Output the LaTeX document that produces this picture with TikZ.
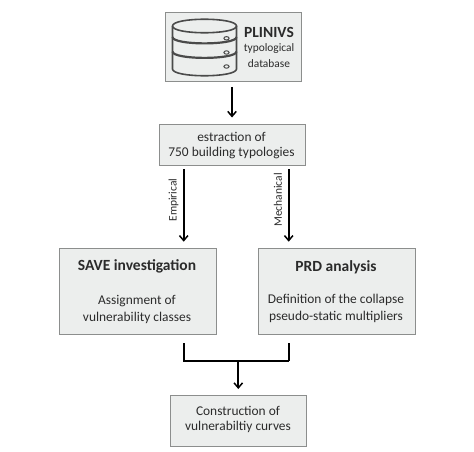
\documentclass[tikz,border=0pt]{standalone}
\usepackage{fontspec}
\setmainfont{Carlito}
\usetikzlibrary{arrows.meta}
\definecolor{boxfill}{HTML}{ECEEED}
\definecolor{boxline}{HTML}{8C8E8D}
\definecolor{ink}{HTML}{2B2B2B}
\definecolor{icon}{HTML}{4A4A4A}
\tikzset{
  x=1pt,y=-1pt,
  flowbox/.style={draw=boxline,line width=1pt,fill=boxfill,inner sep=0pt,anchor=north west},
  txt/.style={text=ink,inner sep=0pt,font=\fontsize{13.4}{15}\selectfont,anchor=center},
  small/.style={text=ink,inner sep=0pt,font=\fontsize{11.4}{13}\selectfont,anchor=center},
  head/.style={text=ink,inner sep=0pt,font=\fontsize{15.5}{18}\selectfont\bfseries,anchor=center},
  side/.style={text=ink,inner sep=0pt,font=\fontsize{11.5}{13}\selectfont,rotate=90,anchor=center},
  arr/.style={draw=black,line width=1.7pt,-{Straight Barb[length=5pt,width=8.5pt,line width=1.5pt]}},
  joinline/.style={draw=black,line width=1.7pt},
  disc/.style={draw=icon,line width=1.6pt}
}
\begin{document}
\begin{tikzpicture}
\useasboundingbox (0,0) rectangle (474,452);
\fill[white] (0,0) rectangle (474,452);
% boxes
\node[flowbox,minimum width=136pt,minimum height=69pt] (db) at (165,12) {};
\node[flowbox,minimum width=146.5pt,minimum height=41.5pt] (extract) at (158.5,123.5) {};
\node[flowbox,minimum width=157pt,minimum height=86.5pt] (save) at (58.7,247.7) {};
\node[flowbox,minimum width=157.3pt,minimum height=86.5pt] (prd) at (257.7,247.7) {};
\node[flowbox,minimum width=136pt,minimum height=50.7pt] (curves) at (170,395) {};
% database icon
\draw[disc] (172.5,26) -- (172.5,69) .. controls (172.5,78) and (236.5,78) .. (236.5,69) -- (236.5,26);
\draw[disc] (172.5,26) .. controls (172.5,17) and (236.5,17) .. (236.5,26) .. controls (236.5,35) and (172.5,35) .. (172.5,26);
\foreach \yy in {37,51.5}
  \draw[disc,line width=2.2pt] (172.5,\yy) .. controls (172.5,\yy+8.5) and (236.5,\yy+8.5) .. (236.5,\yy);
\foreach \yy in {38.3,52.5,66.5}
  \draw[icon,line width=1pt] (226.5,\yy) ellipse[x radius=2.6,y radius=1.7];
% texts
\node[head] (t1) at (269,32.5) {PLINIVS};
\node[small] (t2) at (269,49) {typological};
\node[small] (t3) at (269,63.5) {database};
\node[txt] (t4) at (231.5,137) {estraction of};
\node[txt] (t5) at (231.5,152.5) {750 building typologies};
\node[head] (t6) at (137,266) {SAVE investigation};
\node[txt] (t7) at (137,301.5) {Assignment of};
\node[txt] (t8) at (137,318) {vulnerability classes};
\node[head] (t9) at (336,267) {PRD analysis};
\node[txt] (t10) at (336,300) {Definition of the collapse};
\node[txt] (t11) at (336,316.5) {pseudo-static multipliers};
\node[txt] (t12) at (238,410.5) {Construction of};
\node[txt] (t13) at (238,427) {vulnerabiltiy curves};
\node[side] (l1) at (173.5,200) {Empirical};
\node[side] (l2) at (278,200) {Mechanical};
% connectors
\coordinate (ax) at (232,0);
\coordinate (ex) at (183.7,0);
\coordinate (mx) at (288.7,0);
\coordinate (jx) at (238.3,0);
\coordinate (jy) at (0,361);
\draw[arr,shorten <=5pt,shorten >=6pt] (ax |- db.south) -- (ax |- extract.north);
\draw[arr,shorten <=3pt,shorten >=6pt] (ex |- extract.south) -- (ex |- save.north);
\draw[arr,shorten <=3pt,shorten >=6pt] (mx |- extract.south) -- (mx |- prd.north);
\draw[joinline,shorten <=8pt] (ex |- save.south) -- (ex |- jy) -- (mx |- jy);
\draw[joinline,shorten <=8pt] (mx |- prd.south) -- (mx |- jy);
\draw[arr,shorten >=6pt] (jx |- jy) -- (jx |- curves.north);
\end{tikzpicture}
\end{document}
